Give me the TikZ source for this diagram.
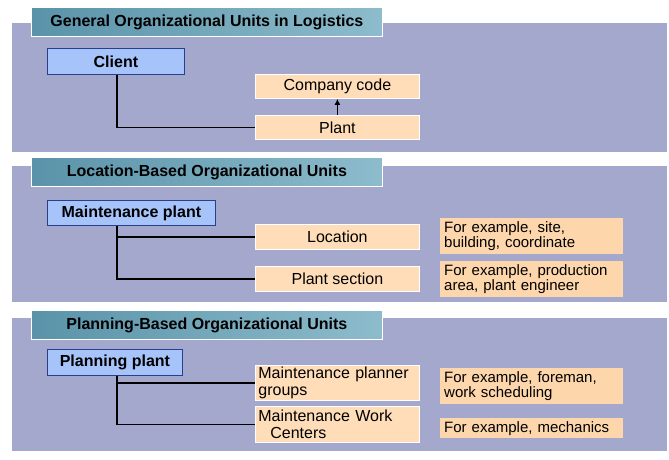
\documentclass[tikz,border=0pt]{standalone}
\usepackage{fontspec}
\setmainfont{Liberation Sans}
\usetikzlibrary{arrows.meta}
\begin{document}
\begin{tikzpicture}[x=1pt,y=-1pt,
  panel/.style={fill=panelc,draw=white,line width=1pt},
  title/.style={anchor=north west,minimum width=351pt,minimum height=29pt,left color=titleL,right color=titleR,draw=white,line width=0.8pt,font=\fontsize{16}{18}\selectfont\bfseries,inner sep=0pt},
  unit/.style={anchor=north west,fill=unitc,draw=unitd,line width=0.8pt,font=\fontsize{16}{18}\selectfont\bfseries,inner sep=0pt,minimum height=26pt},
  obj/.style={anchor=north west,fill=objc,draw=white,line width=0.8pt,minimum width=164pt,font=\fontsize{16}{17}\selectfont,inner sep=0pt,align=center},
  note/.style={anchor=north west,fill=notec,minimum width=183pt,font=\fontsize{15}{15}\selectfont,inner sep=0pt,text width=175pt,align=left},
  conn/.style={line width=1.3pt,black}]
\definecolor{panelc}{HTML}{A4A8CD}
\definecolor{titleL}{HTML}{5A93A9}
\definecolor{titleR}{HTML}{8DBCCC}
\definecolor{unitc}{HTML}{A6C4FA}
\definecolor{unitd}{HTML}{2A3F8C}
\definecolor{objc}{HTML}{FFDDB9}
\definecolor{notec}{HTML}{FDD6AC}
\useasboundingbox (0,0) rectangle (669,460);
\fill[white] (0,0) rectangle (669,460);
% panels
\draw[panel] (11,23) rectangle (667,152);
\draw[panel] (11,165) rectangle (667,302);
\draw[panel] (11,317) rectangle (667,451);
% titles
\node[title] (t1) at (31,7) {General Organizational Units in Logistics};
\node[title] (t2) at (31,157) {Location-Based Organizational Units};
\node[title] (t3) at (31,310) {Planning-Based Organizational Units};
% panel 1
\node[unit,minimum width=137pt] (client) at (47,48) {Client};
\node[obj,minimum height=24pt] (cc) at (255,74) {Company code};
\node[obj,minimum height=24pt] (plant) at (255,115) {Plant};
\draw[conn,-{Latex[length=6pt,width=6pt]}] (plant) -- (cc);
\draw[conn] (client.south -| 117,0) |- (plant.west);
% panel 2
\node[unit,minimum width=168pt,minimum height=25pt] (mp) at (47,200) {Maintenance plant};
\node[obj,minimum height=25pt] (loc) at (255,224) {Location};
\node[obj,minimum height=25pt] (ps) at (255,266) {Plant section};
\node[note,minimum height=36pt] (n1) at (440,218) {For example, site,\\building, coordinate};
\node[note,minimum height=36pt] (n2) at (440,261) {For example, production\\area, plant engineer};
\draw[conn] (mp.south -| 117,0) |- (loc.west);
\draw[conn] (mp.south -| 117,0) |- (ps.west);
% panel 3
\node[unit,minimum width=135pt] (pp) at (47,349) {Planning plant};
\node[obj,minimum height=35pt,text width=158pt,align=left] (mpg) at (255,365) {Maintenance planner\\groups};
\node[obj,minimum height=36pt,text width=158pt,align=left] (mwc) at (255,406) {Maintenance Work\\\hspace*{12pt}Centers};
\node[note,minimum height=36pt] (n3) at (440,368) {For example, foreman,\\work scheduling};
\node[note,minimum height=20pt] (n4) at (440,418) {For example, mechanics};
\draw[conn] (pp.south -| 117,0) |- (mpg.west);
\draw[conn] (pp.south -| 117,0) |- (mwc.west);
\end{tikzpicture}
\end{document}
